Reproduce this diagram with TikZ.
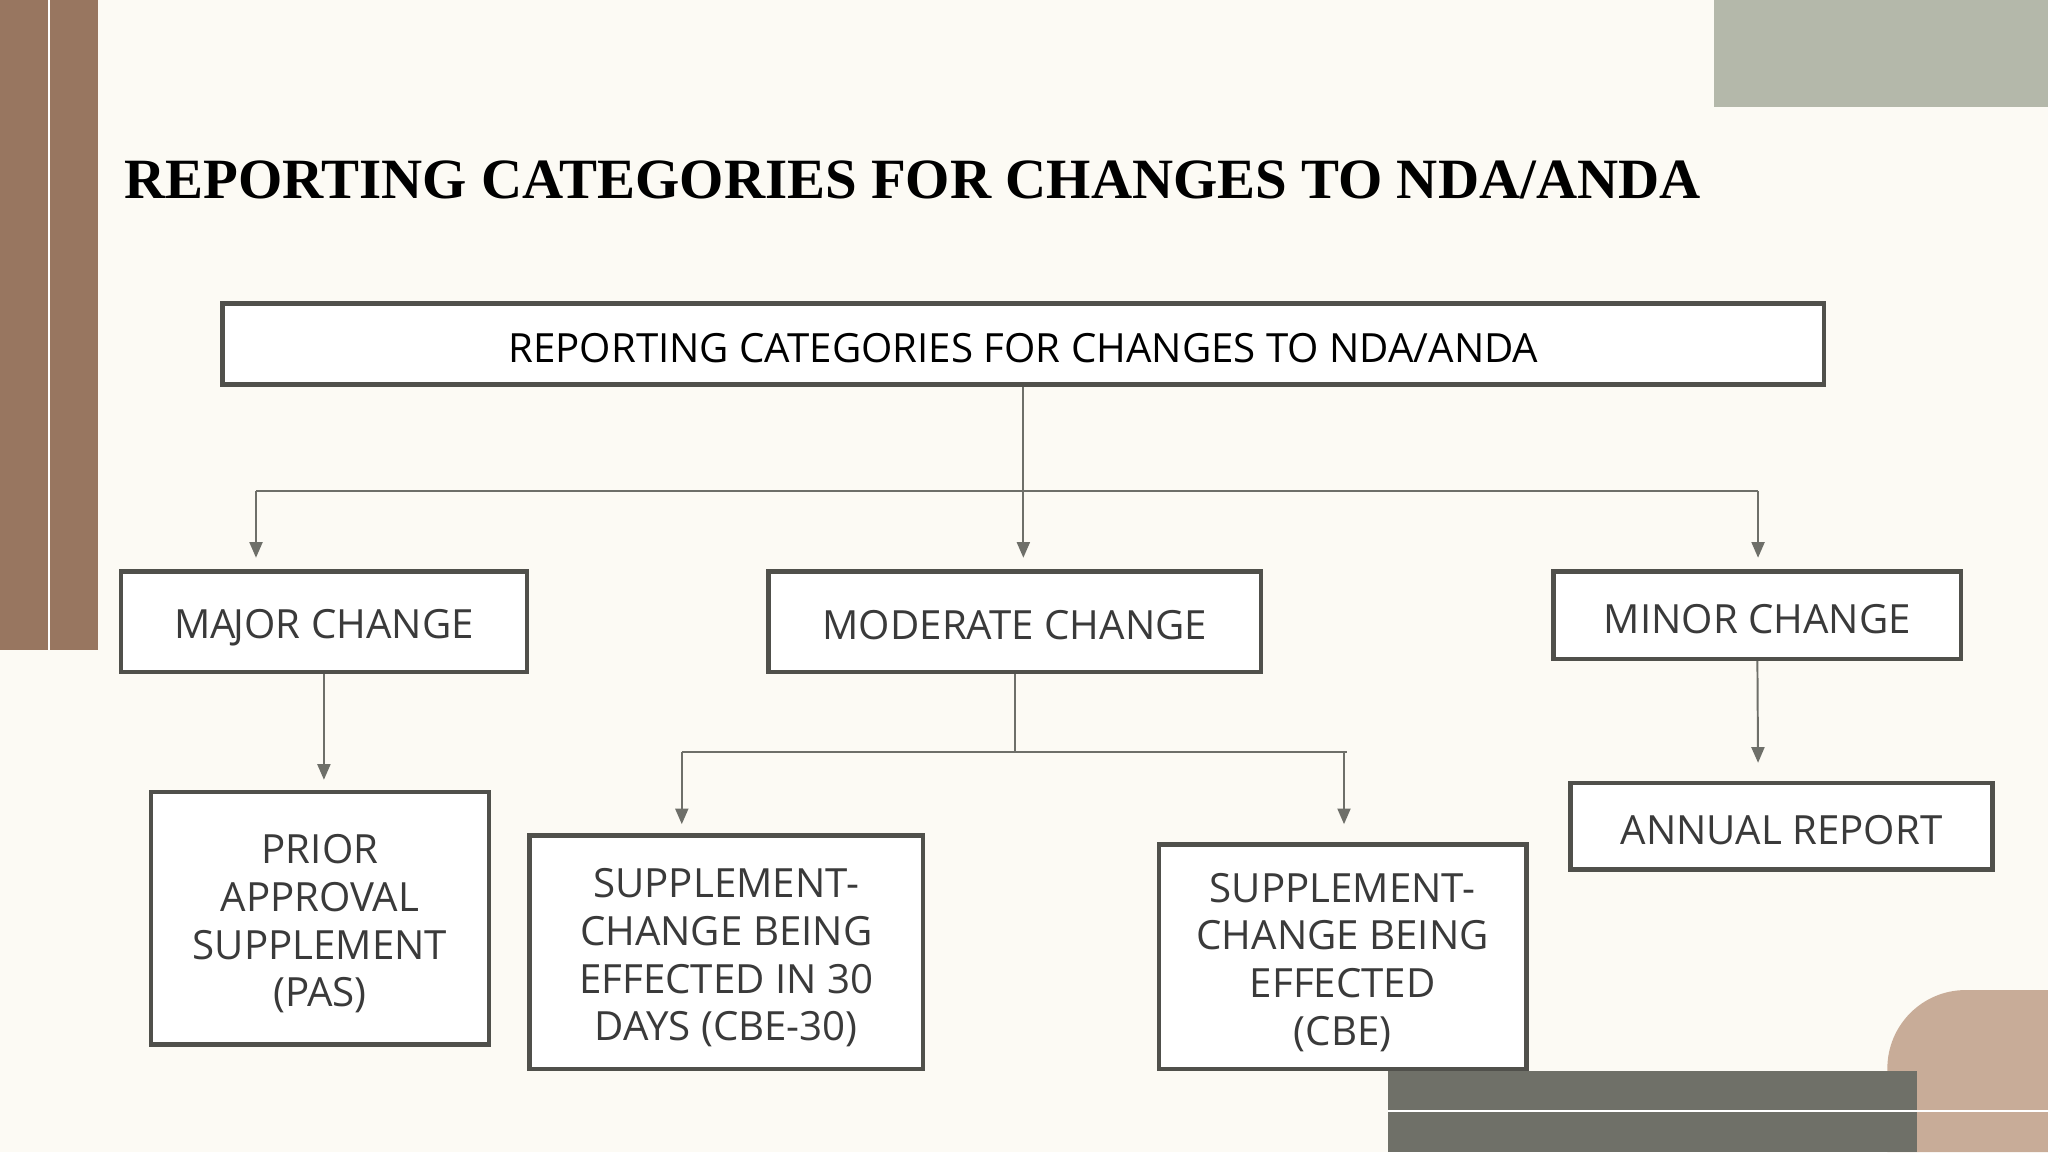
\documentclass[tikz,border=0pt]{standalone}
\usepackage{fontspec}
\setmainfont{Open Sans}
\newfontfamily\titlefont{Liberation Serif}
\usetikzlibrary{arrows.meta}
\definecolor{bgc}{HTML}{FCFAF4}
\definecolor{brownbar}{HTML}{987660}
\definecolor{sagebar}{HTML}{B4B8AA}
\definecolor{tanbar}{HTML}{C8AC98}
\definecolor{darkbar}{HTML}{6F7068}
\definecolor{boxline}{HTML}{50504B}
\definecolor{boxtext}{HTML}{3A3A3A}
\definecolor{arrowc}{HTML}{6E6F69}
\newcommand{\topstrut}{\rule{0pt}{31bp}}
\newcommand{\onestrut}{\rule{0pt}{28bp}}
\tikzset{
  box/.style={draw=boxline, line width=3.5bp, fill=white, rectangle, inner sep=0pt,
    align=center, text=boxtext, font=\fontsize{30.8bp}{36.5bp}\selectfont},
  conn/.style={draw=arrowc, line width=1.5bp},
  arr/.style={conn, -{Triangle[length=12bp,width=10bp]}}
}
\begin{document}
\begin{tikzpicture}[x=1bp,y=-1bp]
\fill[bgc] (0,0) rectangle (1568,882);
\useasboundingbox (0,0) rectangle (1568,882);
% decorations
\fill[brownbar] (0,0) rectangle (75,498);
\fill[white] (36.5,0) rectangle (38.5,498);
\fill[sagebar] (1312,0) rectangle (1568,82);
\fill[tanbar] (1568,882) -- (1445,882) -- (1445,818) arc[start angle=180, end angle=90, radius=60bp] -- (1568,758) -- cycle;
\fill[darkbar] (1063,820) rectangle (1468,882);
\fill[white] (1063,849.5) rectangle (1568,851);
% title
\node[anchor=base west, inner sep=0pt, font=\titlefont\bfseries\fontsize{43.6bp}{48bp}\selectfont] (title) at (95,152) {REPORTING CATEGORIES FOR CHANGES TO NDA/ANDA};
% boxes
\node[box, minimum width=1226bp, minimum height=62bp, text=black] (top) at (783.5,263.5) {\onestrut REPORTING CATEGORIES FOR CHANGES TO NDA/ANDA};
\node[box, minimum width=311bp, minimum height=77bp] (major) at (248,476) {\topstrut MA\kern-0.05em JOR CHANGE};
\node[box, minimum width=377bp, minimum height=77bp] (moderate) at (777,476) {\onestrut MODERATE CHANGE};
\node[box, minimum width=312bp, minimum height=67bp] (minor) at (1345.5,471) {\onestrut MINOR CHANGE};
\node[box, minimum width=259bp, minimum height=193bp] (pas) at (245,703) {\topstrut PRIOR\\APPROVAL\\SUPPLEMENT\\(PAS)};
\node[box, minimum width=301bp, minimum height=179bp] (cbe30) at (556,729) {\topstrut SUPPLEMENT-\\CHANGE BEING\\EFFECTED IN 30\\DAYS (CBE-30)};
\node[box, minimum width=281bp, minimum height=172bp] (cbe) at (1028,732.5) {\topstrut SUPPLEMENT-\\CHANGE BEING\\EFFECTED\\(CBE)};
\node[box, minimum width=323bp, minimum height=66bp] (annual) at (1364,632.5) {\onestrut ANNUAL REPORT};
% connectors
\coordinate (bus1) at (783.5,376);
\coordinate (busL) at (196,376);
\coordinate (busR) at (1346,376);
\draw[conn] (top.south) -- (bus1);
\draw[conn] (busL) -- (busR);
\draw[arr] (busL) -- (196,427);
\draw[arr] (bus1) -- (783.5,427);
\draw[arr] (busR) -- (1346,427);
\draw[arr] (major.south) -- (248,597);
\coordinate (bus2) at (777,576);
\draw[conn] (moderate.south) -- (bus2);
\draw[conn] (522,576) -- (1031,576);
\draw[arr] (522,576) -- (522,631);
\draw[arr] (1029,576) -- (1029,631);
\draw[arr] (minor.south) -- (1346,584);
\end{tikzpicture}
\end{document}
